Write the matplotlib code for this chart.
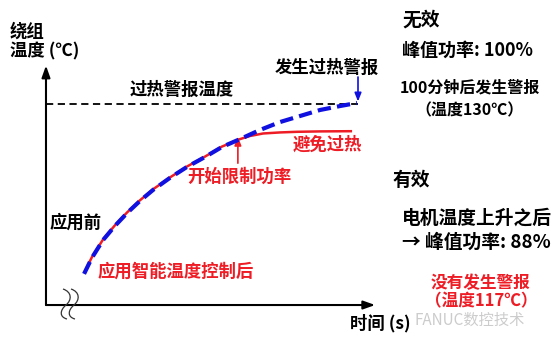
import matplotlib
matplotlib.use("Agg")
import matplotlib.pyplot as plt
from matplotlib.path import Path
from matplotlib.patches import PathPatch

plt.rcParams['font.family'] = ['Noto Sans CJK SC', 'DejaVu Sans']

# winding temperature (C) vs time (min)
time_before = [12.2, 14.7, 18.3, 22.1, 26.0, 30.1, 34.3, 39.7, 45.2, 51.0,
               56.4, 62.2, 68.6, 75.0, 81.4, 87.8, 94.2, 99.7]
temp_before = [48.2, 55.9, 64.5, 71.3, 77.5, 83.3, 88.6, 94.4, 99.7, 104.5,
               109.3, 113.1, 117.5, 121.3, 124.2, 127.1, 129.0, 130.5]

time_after = [12.2, 14.7, 18.3, 22.1, 26.0, 30.1, 34.3, 39.7, 45.2, 51.0,
              56.4, 62.2, 65.4, 69.6, 75.0, 80.4, 87.8, 98.1]
temp_after = [48.6, 56.2, 64.8, 71.6, 77.8, 83.6, 88.9, 94.6, 99.9, 104.7,
              109.5, 113.1, 114.6, 115.8, 116.3, 116.6, 116.8, 116.9]

alarm_temp = 130
axis_base = 33.2
time_end = 100

fig = plt.figure(figsize=(5.58, 3.37), dpi=100)
ax = fig.add_axes([0, 0, 1, 1])
ax.set_xlim(-14.74, 164.1)
ax.set_ylim(17.8, 180.07)
ax.axis('off')

# axes with arrows
arrow = dict(arrowstyle='-|>,head_length=0.7,head_width=0.25', color='black', lw=1.5,
             shrinkA=0, shrinkB=0)
ax.annotate('', xy=(0, 148.5), xytext=(0, axis_base), arrowprops=arrow)
ax.annotate('', xy=(105.5, axis_base), xytext=(0, axis_base), arrowprops=arrow)

# alarm threshold
ax.plot([0, time_end], [alarm_temp, alarm_temp], color='black', lw=1.3,
        dashes=(4, 2.5))

ax.plot(time_after, temp_after, color='#ee1c25', lw=1.8, solid_capstyle='butt', zorder=3)
ax.plot(time_before, temp_before, color='#1010e0', lw=3, dashes=(3.2, 1.5), zorder=4)

# small arrows
ax.annotate('', xy=(time_end, 131.2), xytext=(time_end, 143),
            arrowprops=dict(arrowstyle='-|>,head_length=0.5,head_width=0.2',
                            color='#1010e0', lw=1.2, shrinkA=0, shrinkB=0))
ax.annotate('', xy=(61.5, 114.2), xytext=(61.5, 101.5),
            arrowprops=dict(arrowstyle='-|>,head_length=0.5,head_width=0.2',
                            color='#ee1c25', lw=1.2, shrinkA=0, shrinkB=0))

# axis break squiggle (pixel space)
W, H = 558.0, 337.0
def fp(x, y):
    return (x / W, 1 - y / H)

for dx in (0, 8):
    verts = [fp(63 + dx, 289), fp(72 + dx, 292), fp(72 + dx, 300), fp(66 + dx, 305),
             fp(60 + dx, 310), fp(59 + dx, 317), fp(67 + dx, 319)]
    codes = [Path.MOVETO, Path.CURVE4, Path.CURVE4, Path.CURVE4,
             Path.CURVE4, Path.CURVE4, Path.CURVE4]
    fig.patches.append(PathPatch(Path(verts, codes), transform=fig.transFigure,
                                 fill=False, lw=0.9, color='#333333'))

def label(x, y, s, size=12.5, color='black', ha='left', **kw):
    fig.text(x / W, 1 - y / H, s, fontsize=size, color=color, ha=ha, va='center',
             fontweight='heavy', **kw)

label(10, 32, '绕组', 12.5)
label(10, 51, '温度 (℃)', 12.5)
label(130, 90, '过热警报温度', 12.5)
label(275, 68, '发生过热警报', 12.5)
label(402, 20, '无效', 13.5)
label(402, 50, '峰值功率: 100%', 13)
label(470, 88, '100分钟后发生警报', 11.5, ha='center')
label(470, 110, '（温度130℃）', 11.5, ha='center')
label(293, 145, '避免过热', 12.5, color='#ee1c25')
label(187, 177, '开始限制功率', 12.5, color='#ee1c25')
label(50, 223, '应用前', 12.5)
label(98, 272, '应用智能温度控制后', 12.5, color='#ee1c25')
label(393, 180, '有效', 13.5)
label(402, 218, '电机温度上升之后', 13.5)
label(402, 242, '→ 峰值功率: 88%', 13.5)
label(481, 283, '没有发生警报', 12, color='#ee1c25', ha='center')
label(481, 301, '（温度117℃）', 12, color='#ee1c25', ha='center')
label(350, 323, '时间 (s)', 12.5)

# watermark
fig.text(414 / W, 1 - 320 / H, 'FANUC数控技术', fontsize=11, color='#aaaaaa',
         alpha=0.6, ha='left', va='center')

fig.savefig('out.png', dpi=100)
